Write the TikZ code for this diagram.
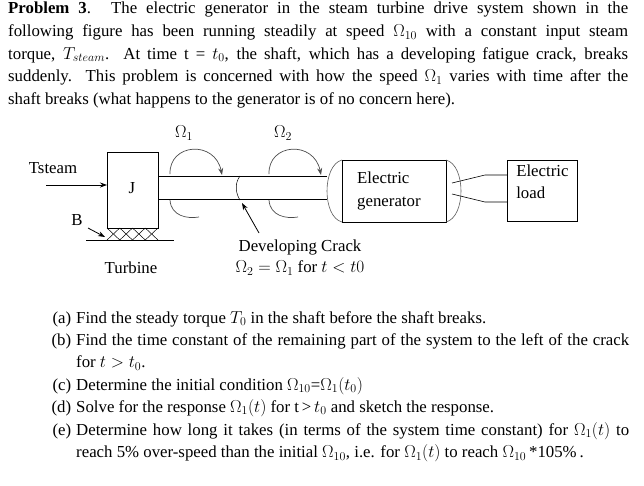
\documentclass[tikz,border=0pt]{standalone}
\usepackage{fontspec}
\setmainfont{Liberation Serif}
\usetikzlibrary{arrows.meta,patterns}
\begin{document}
\begin{tikzpicture}[x=1pt,y=-1pt,
  txt/.style={inner sep=0,font=\fontsize{16.8}{22.6}\selectfont},
  ln/.style={line width=0.8pt},
  arr/.style={ln,-{Stealth[length=7pt,width=5pt]}},
  rot/.style={line width=0.7pt,gray!60!black}]
\useasboundingbox (0,0) rectangle (644,485);
\node[txt,anchor=north west,text width=620,align=justify] (p) at (8,2)
 {\textbf{Problem 3}. The electric generator in the steam turbine drive system shown in the\linebreak following figure has been running steadily at speed $\Omega_{10}$ with a constant input steam\linebreak torque, $T_{steam}$. At time t = $t_0$, the shaft, which has a developing fatigue crack, breaks\linebreak suddenly. This problem is concerned with how the speed $\Omega_1$ varies with time after the\linebreak shaft breaks (what happens to the generator is of no concern here).};
% turbine
\draw[ln] (107,152) rectangle (158,228);
\node[txt] (J) at (132,188) {J};
\draw[ln] (86,240) -- (174,240);
\foreach \i in {0,1,2,3}{
 \draw[line width=0.5pt] (107+\i*12.75,228) -- (107+\i*12.75+12.75,240);
 \draw[line width=0.5pt] (107+\i*12.75,240) -- (107+\i*12.75+12.75,228);}
\node[txt] (ts) at (53,168) {Tsteam};
\coordinate (tsa) at (46,185);
\draw[arr] (tsa) -- (107,185);
\node[txt] (B) at (77,220) {B};
\draw[arr] (88,228) -- (105,237);
\node[txt] (tu) at (131,268) {Turbine};
% shaft
\draw[ln] (158,176) -- (327,176) (158,199) -- (327,199);
\draw[line width=0.5pt] (240,176) .. controls (234,184) and (236,194) .. (240,200);
\draw[arr] (259,233) -- (242,203);
\node[txt] (dc) at (300,247) {Developing Crack};
\node[txt] (eq) at (300,268) {$\Omega_2=\Omega_1$ for $t<t0$};
% rotations
\foreach \cx/\lab in {197/$\Omega_1$,296/$\Omega_2$}{
 \draw[rot,-{Stealth[length=7pt,width=5pt]}] (\cx-27,174) .. controls (\cx-28,143) and (\cx+18,140) .. (\cx+25,175);
 \draw[rot] (\cx-27,200) .. controls (\cx-26,216) and (\cx-10,219) .. (\cx+2,217);
 \node[txt] at (\cx-13,133) {\lab};}
% generator
\draw[ln] (342,160) rectangle (446,222);
\draw[line width=0.6pt,gray!70!black] (342,160) .. controls (322,165) and (322,217) .. (342,222);
\draw[line width=0.6pt,gray!70!black] (446,160) .. controls (466,165) and (466,217) .. (446,222);
\node[txt,align=left,anchor=west] (gen) at (357,191) {Electric\\generator};
\node[txt,draw,line width=0.8pt,minimum width=70,minimum height=58,align=left,inner sep=4pt,anchor=north west] (load) at (507,160) {Electric\\load\\[-4pt]};
\draw[line width=0.6pt] (452,183) -- (485,175) -- (507,175);
\draw[line width=0.6pt] (452,194) -- (485,202) -- (507,202);
% questions
\foreach \y/\l/\t in {
 320/(a)/{Find the steady torque $T_0$ in the shaft before the shaft breaks.},
 342/(b)/{Find the time constant of the remaining part of the system to the left of the crack for $t>t_0$.},
 386/(c)/{Determine the initial condition $\Omega_{10}$=$\Omega_1(t_0)$},
 408/(d)/{Solve for the response $\Omega_1(t)$ for t\,>\,$t_0$ and sketch the response.},
 431/(e)/{Determine how long it takes (in terms of the system time constant) for $\Omega_1(t)$ to reach 5\% over-speed than the initial $\Omega_{10}$, i.e. for $\Omega_1(t)$ to reach $\Omega_{10}$\,*105\%\,.}}{
 \node[txt,anchor=north west,text width=553,align=justify] at (76,\y-9)
   {\llap{\l\hspace{5pt}}\t};}
\end{tikzpicture}
\end{document}
